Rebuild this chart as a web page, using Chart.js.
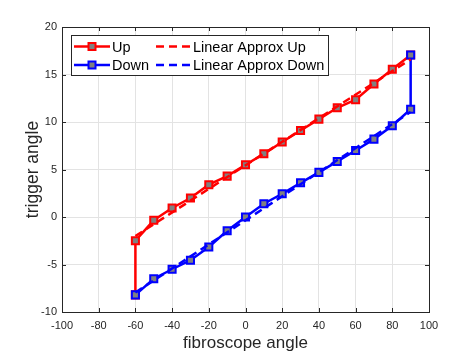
<!DOCTYPE html>
<html><head><meta charset="utf-8">
<script src="https://cdn.jsdelivr.net/npm/chart.js@4/dist/chart.umd.min.js"></script>
<style>html,body{margin:0;padding:0;background:#fff}#wrap{width:474px;height:355px}</style>
</head><body><div id="wrap"><canvas id="c" width="474" height="355"></canvas></div>
<script>
const xTicks = [-100,-80,-60,-40,-20,0,20,40,60,80,100];
const yTicks = [-10,-5,0,5,10,15,20];
const upX = [-60,-60,-50,-40,-30,-20,-10,0,10,20,30,40,50,60,70,80,90];
const upY = [-8.2,-2.5,-0.35,0.95,2.0,3.4,4.3,5.5,6.65,7.9,9.1,10.3,11.5,12.35,14.0,15.55,17.05];
const downX = [90,90,80,70,60,50,40,30,20,10,0,-10,-20,-30,-40,-50,-60];
const downY = [17.05,11.35,9.6,8.2,7.0,5.85,4.7,3.6,2.45,1.4,0.0,-1.45,-3.15,-4.55,-5.5,-6.5,-8.2];
const approxX = [-60, 90];
const approxUpY = [-2.0, 16.6];
const approxDownY = [-7.95, 11.05];
const legendLabels = ['Up','Down','Linear Approx Up','Linear Approx Down'];

const RED = '#ff0000', BLUE = '#0000ff', GRAYF = '#808080', TXT = '#262626';
const FONT = '"Liberation Sans", Arial, Helvetica, sans-serif';
const pts = (xs, ys) => xs.map((x, i) => ({x, y: ys[i]}));

const frame = {
  id: 'frame',
  beforeDatasetsDraw(chart) {
    const {ctx, chartArea: a, scales: {x, y}} = chart;
    ctx.save();
    ctx.strokeStyle = TXT; ctx.lineWidth = 1;
    const L = 4;
    ctx.beginPath();
    xTicks.forEach(v => { const p = Math.round(x.getPixelForValue(v)) + 0.5;
      ctx.moveTo(p, a.bottom); ctx.lineTo(p, a.bottom - L);
      ctx.moveTo(p, a.top); ctx.lineTo(p, a.top + L); });
    yTicks.forEach(v => { const p = Math.round(y.getPixelForValue(v)) + 0.5;
      ctx.moveTo(a.left, p); ctx.lineTo(a.left + L, p);
      ctx.moveTo(a.right, p); ctx.lineTo(a.right - L, p); });
    ctx.stroke();
    ctx.restore();
  },
  afterDraw(chart) {
    const {ctx, chartArea: a} = chart;
    ctx.save();
    ctx.strokeStyle = TXT; ctx.lineWidth = 1;
    ctx.strokeRect(Math.round(a.left) + 0.5, Math.round(a.top) + 0.5, Math.round(a.right - a.left), Math.round(a.bottom - a.top));
    // legend
    const bx = 71.5, by = 35.5, bw = 257, bh = 40;
    ctx.fillStyle = '#fff'; ctx.fillRect(bx, by, bw, bh);
    ctx.strokeStyle = TXT; ctx.strokeRect(bx, by, bw, bh);
    const rows = [46.5, 65];
    const cols = [[74, 110, 112], [156, 190, 193]];
    const colors = [RED, BLUE];
    ctx.font = '14.5px ' + FONT; ctx.textBaseline = 'middle'; ctx.fillStyle = '#000';
    for (let r = 0; r < 2; r++) {
      const yy = rows[r];
      ctx.setLineDash([]); ctx.lineWidth = 2.5; ctx.strokeStyle = colors[r];
      ctx.beginPath(); ctx.moveTo(cols[0][0], yy); ctx.lineTo(cols[0][1], yy); ctx.stroke();
      ctx.fillStyle = GRAYF; ctx.lineWidth = 2;
      ctx.fillRect(92 - 3.5, yy - 3.5, 7, 7); ctx.strokeRect(92 - 3.5, yy - 3.5, 7, 7);
      ctx.fillStyle = '#000';
      ctx.fillText(legendLabels[r], cols[0][2], yy + 1);
      ctx.setLineDash([8, 5]); ctx.lineWidth = 2.5; ctx.strokeStyle = colors[r];
      ctx.beginPath(); ctx.moveTo(cols[1][0], yy); ctx.lineTo(cols[1][1], yy); ctx.stroke();
      ctx.setLineDash([]);
      ctx.fillText(legendLabels[r + 2], cols[1][2], yy + 1);
    }
    ctx.restore();
  }
};

new Chart(document.getElementById('c'), {
  type: 'scatter',
  data: {
    datasets: [
      {label: legendLabels[3], data: pts(approxX, approxDownY), showLine: true, borderColor: BLUE, borderWidth: 2.5, borderDash: [8, 5], pointRadius: 0, order: 0},
      {label: legendLabels[2], data: pts(approxX, approxUpY), showLine: true, borderColor: RED, borderWidth: 2.5, borderDash: [8, 5], pointRadius: 0, order: 1},
      {label: legendLabels[1], data: pts(downX, downY), showLine: true, borderColor: BLUE, borderWidth: 2.5, pointStyle: 'rect', pointRadius: 5, pointBorderWidth: 2, pointBackgroundColor: GRAYF, pointBorderColor: BLUE, order: 2},
      {label: legendLabels[0], data: pts(upX, upY), showLine: true, borderColor: RED, borderWidth: 2.5, pointStyle: 'rect', pointRadius: 5, pointBorderWidth: 2, pointBackgroundColor: GRAYF, pointBorderColor: RED, order: 3}
    ]
  },
  options: {
    responsive: false, animation: false, devicePixelRatio: 1,
    layout: {padding: {top: 27, right: 45, left: 0, bottom: 0}},
    plugins: {legend: {display: false}, tooltip: {enabled: false}},
    scales: {
      x: {
        type: 'linear', min: -100, max: 100,
        afterBuildTicks: s => { s.ticks = xTicks.map(v => ({value: v})); },
        afterFit: s => { s.height = 43; },
        grid: {color: '#e3e3e3', drawTicks: false},
        border: {display: false},
        ticks: {padding: 7, color: TXT, font: {size: 11, family: FONT}, maxRotation: 0},
        title: {display: true, text: 'fibroscope angle', color: TXT, font: {size: 17, family: FONT}, padding: {top: 1, bottom: 1}}
      },
      y: {
        type: 'linear', min: -10, max: 20,
        afterBuildTicks: s => { s.ticks = yTicks.map(v => ({value: v})); },
        afterFit: s => { s.width = 62; },
        grid: {color: '#e3e3e3', drawTicks: false},
        border: {display: false},
        ticks: {padding: 5, color: TXT, font: {size: 11, family: FONT}},
        title: {display: true, text: 'trigger angle', color: TXT, font: {size: 17.5, family: FONT}, padding: {top: 23, bottom: 23}}
      }
    }
  },
  plugins: [frame]
});
</script></body></html>
